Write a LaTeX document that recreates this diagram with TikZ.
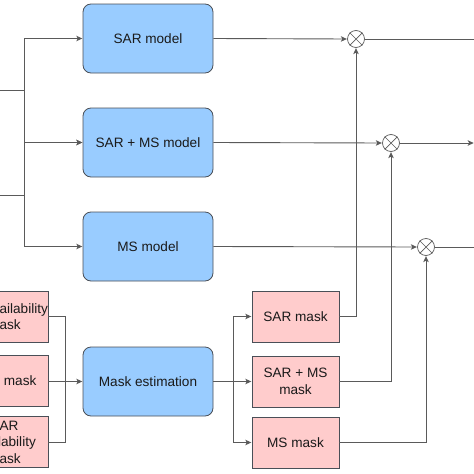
\documentclass[tikz,border=0pt]{standalone}
\usepackage{fontspec}
\setmainfont{Liberation Sans}
\usetikzlibrary{arrows.meta,calc}
\definecolor{bluefill}{HTML}{99CCFF}
\definecolor{pinkfill}{HTML}{FFCCCC}
\definecolor{boxdraw}{HTML}{4A4F57}
\definecolor{linec}{HTML}{5A5A5A}
\definecolor{txt}{HTML}{1A1A1A}
\tikzset{
  model/.style={draw=boxdraw, fill=bluefill, rounded corners=8pt, minimum width=130pt, minimum height=69pt, inner sep=0pt, line width=0.8pt, text=txt, font=\fontsize{13.6}{16.5}\selectfont, align=center},
  maskbox/.style={draw=boxdraw, fill=pinkfill, minimum width=87pt, minimum height=51pt, inner sep=0pt, line width=0.8pt, text=txt, font=\fontsize{13.6}{16.5}\selectfont, align=center},
  mult/.style={draw=linec, fill=white, circle, minimum size=17pt, inner sep=0pt, line width=0.7pt},
  conn/.style={draw=linec, line width=0.9pt},
  arr/.style={conn, -{Stealth[length=6pt,width=5.5pt,inset=1.5pt]}, shorten >=0.3pt},
}
\begin{document}
\begin{tikzpicture}[x=1pt,y=-1pt]
\useasboundingbox (0,0) rectangle (474,474);
% model boxes
\node[model] (sarm) at (148,38.5) {SAR model};
\node[model] (sarmsm) at (148,142.5) {SAR + MS model};
\node[model] (msm) at (148,246.5) {MS model};
\node[model] (est) at (148,381.5) {Mask estimation};
% left mask inputs (cut by the left edge, as in the reference)
\node[maskbox] (avms) at (4.5,316.5) {MS availability\\mask};
\node[maskbox] (cloud) at (4.5,381) {};
\node[text=txt, font=\fontsize{13.6}{16.5}\selectfont, inner sep=0pt] (cloudtxt) at (0.5,381) {Cloud mask};
\node[maskbox] (avsar) at (4.5,442) {SAR\\availability\\mask};
% estimated masks
\node[maskbox] (sarmask) at (295.5,316.5) {SAR mask};
\node[maskbox] (sarmsmask) at (295.5,381.5) {SAR + MS\\mask};
\node[maskbox] (msmask) at (295.5,442.5) {MS mask};
% multipliers
\node[mult] (c1) at (356,39) {};
\node[mult] (c2) at (391,143) {};
\node[mult] (c3) at (426,247) {};
\foreach \c in {c1,c2,c3}{
  \draw[linec, line width=0.7pt] (\c.north west) -- (\c.south east) (\c.north east) -- (\c.south west);
}
% external ends
\coordinate (in1) at (-20,90);
\coordinate (in2) at (-20,195);
\coordinate (j1) at (24,90);
\coordinate (j2) at (24,195);
\coordinate (out1) at (490,39);
\coordinate (out2) at (474,143);
\coordinate (out3) at (490,247);
% inputs to models
\draw[conn] (in1) -- (j1);
\draw[conn] (in2) -- (j2);
\draw[arr] (j1) |- (sarm.west);
\draw[arr] (j1) |- (sarmsm.west);
\draw[arr] (j2) |- (sarmsm.west);
\draw[arr] (j2) |- (msm.west);
% models to multipliers
\draw[arr] (sarm.east) -- (c1.west);
\draw[arr] (sarmsm.east) -- (c2.west);
\draw[arr] (msm.east) -- (c3.west);
% multiplier outputs
\draw[arr] (c1.east) -- (out1);
\draw[arr] (c2.east) -- (out2);
\draw[arr] (c3.east) -- (out3);
% masks into estimation
\coordinate (lb) at (65,381.5);
\draw[conn] (avms.east) -| (lb);
\draw[conn] (avsar.east) -| (lb);
\draw[arr] (cloud.east |- lb) -- (est.west);
% estimation to masks
\coordinate (rb) at (233,381.5);
\draw[conn] (est.east) -- (rb);
\draw[arr] (rb) |- (sarmask.west);
\draw[arr] (rb) -- (sarmsmask.west);
\draw[arr] (rb) |- (msmask.west);
% masks to multipliers
\draw[arr] (sarmask.east) -| (c1.south);
\draw[arr] (sarmsmask.east) -| (c2.south);
\draw[arr] (msmask.east) -| (c3.south);
\end{tikzpicture}
\end{document}
